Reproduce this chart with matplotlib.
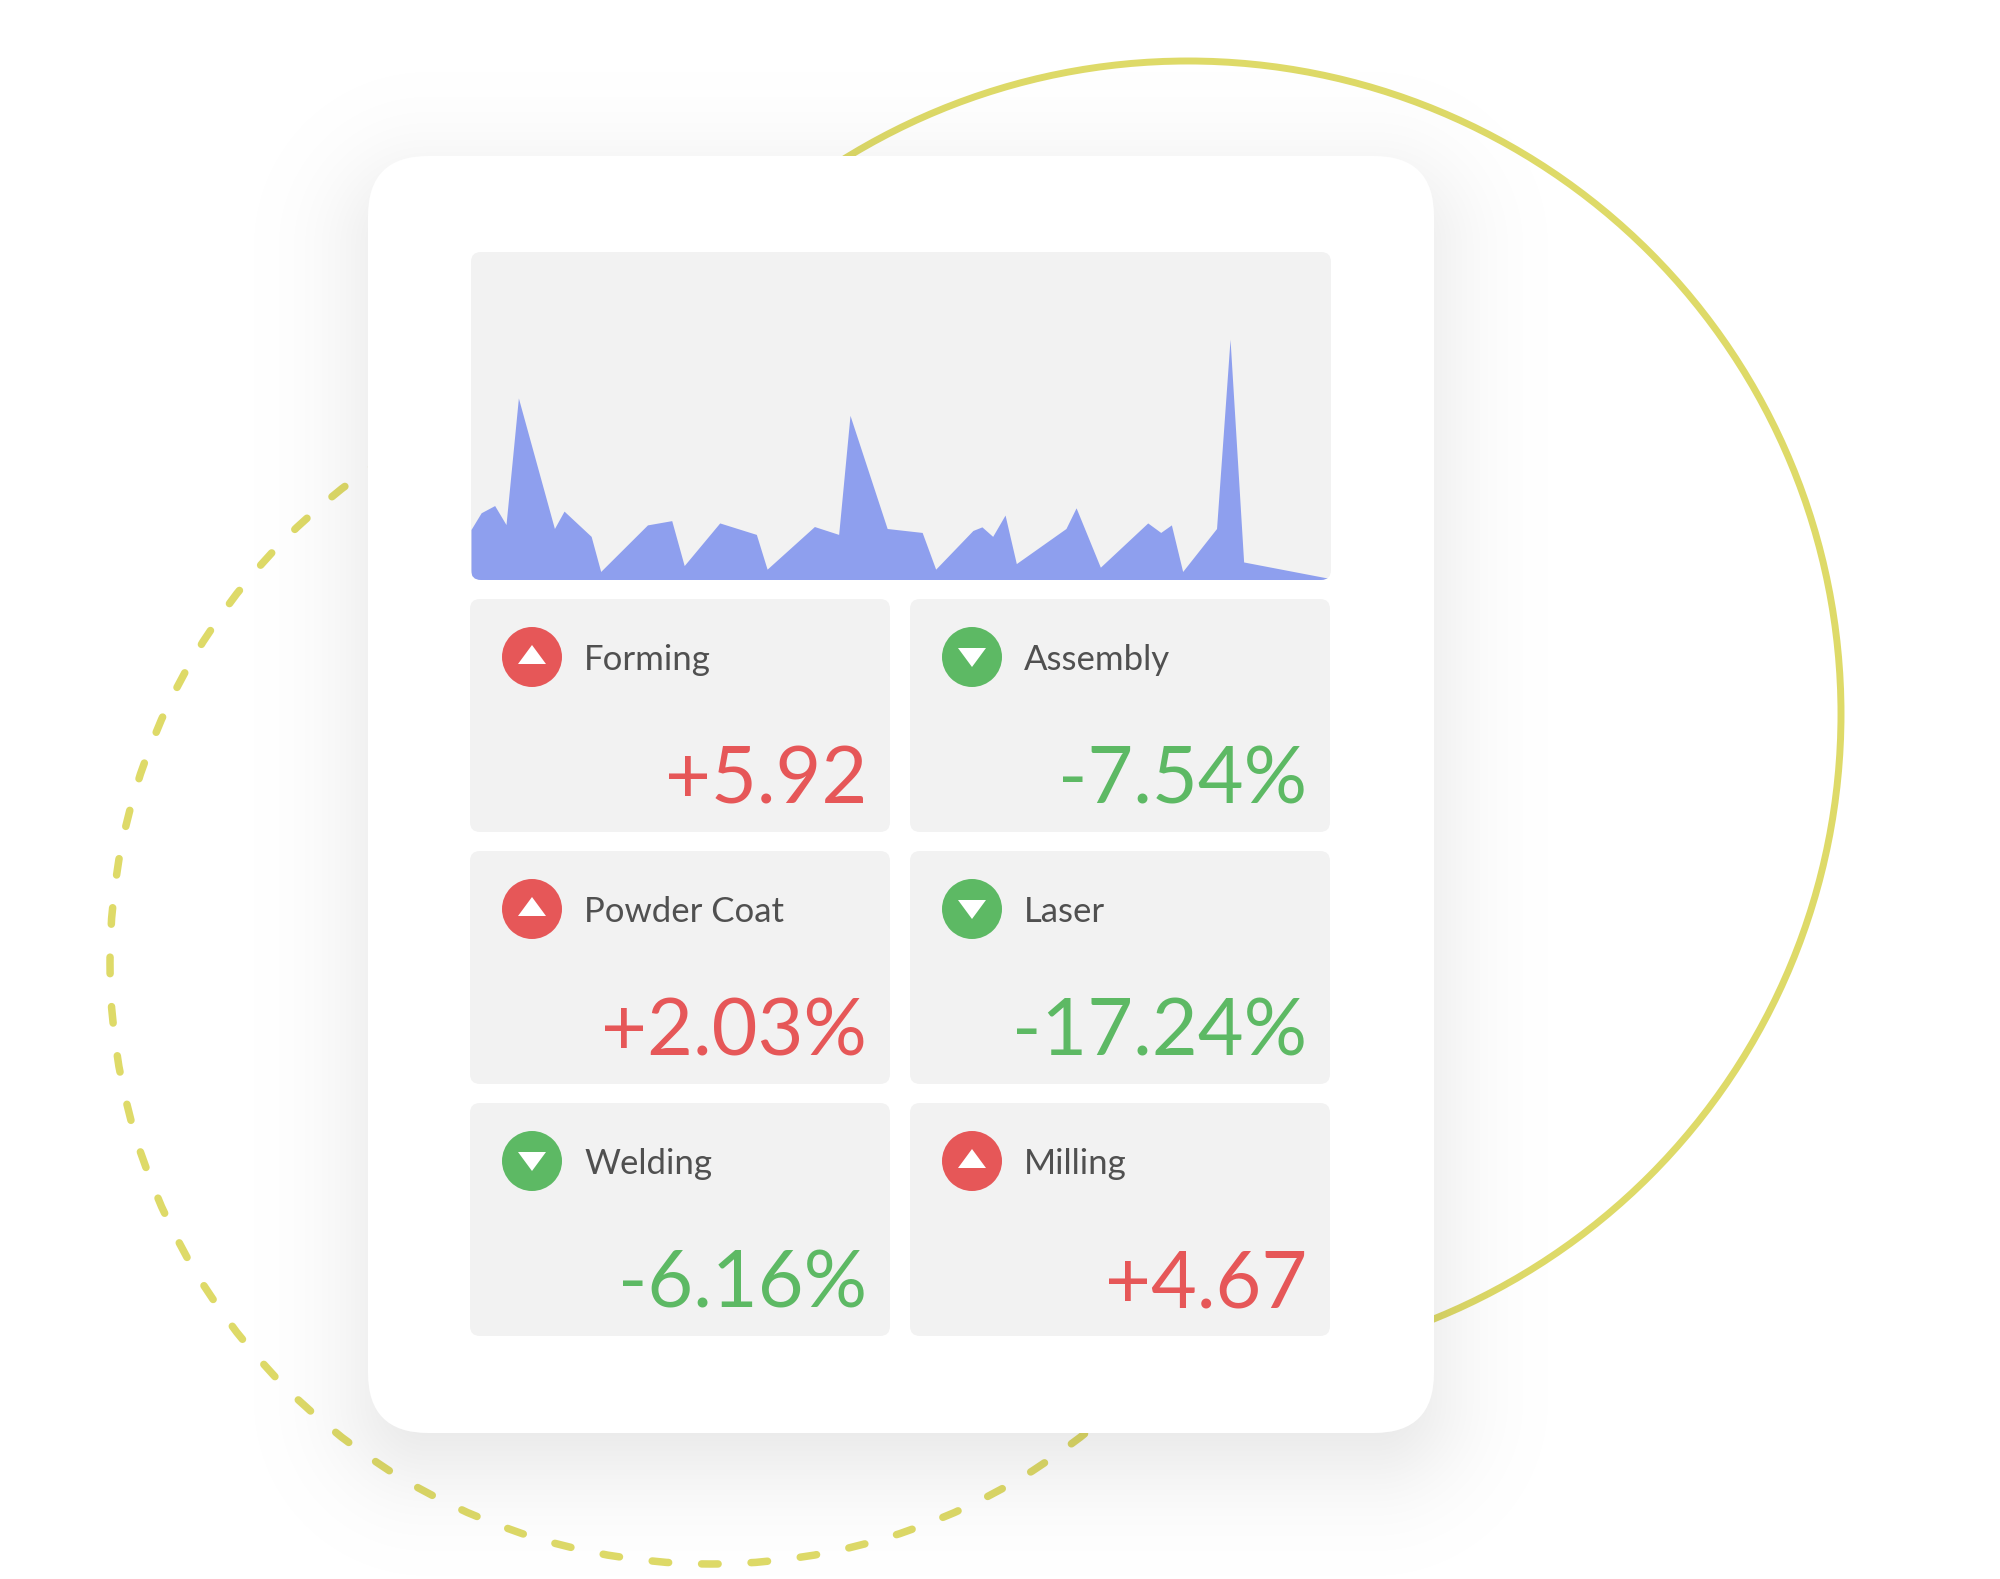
import numpy as np
import matplotlib
matplotlib.use("Agg")
import matplotlib.pyplot as plt
from matplotlib.patches import FancyBboxPatch, Circle, Polygon

# ---------------- data ----------------
trend_x = [0, 1.18, 2.75, 4.07, 5.51, 9.70, 10.82, 13.97, 15.08, 20.52, 23.34, 24.79,
           28.92, 33.18, 34.43, 39.93, 42.75, 44.07, 48.39, 52.46, 54.03, 58.36, 59.41,
           60.66, 62.10, 63.41, 69.18, 70.36, 73.18, 78.69, 80.20, 81.44, 82.75, 86.69,
           88.26, 89.84, 100]
trend_y = [15.4, 20.5, 22.7, 16.9, 55.5, 15.7, 21.0, 13.3, 2.6, 16.8, 18.1, 4.4,
           17.4, 13.9, 3.3, 16.3, 13.9, 50.2, 15.7, 14.5, 3.3, 15.1, 16.2,
           13.3, 19.8, 5.0, 15.7, 22.0, 3.9, 17.4, 14.5, 16.8, 2.6, 15.7,
           73.4, 5.5, 0.4]

names = ["Forming", "Assembly", "Powder Coat", "Laser", "Welding", "Milling"]
changes = [5.92, -7.54, 2.03, -17.24, -6.16, 4.67]
units = ["", "%", "%", "%", "%", ""]

# ---------------- style ----------------
plt.rcParams['font.family'] = ['Lato', 'DejaVu Sans']
RED = "#E65758"
GREEN = "#5DB964"
TILE = "#F2F2F2"
AREA = "#8E9FEE"
YELLOW = "#DEDA68"
LABEL = "#505050"

W, H = 2000, 1579
fig = plt.figure(figsize=(W / 100, H / 100), dpi=100)
fig.patch.set_facecolor("white")
ax = fig.add_axes([0, 0, 1, 1])
ax.set_xlim(0, W)
ax.set_ylim(H, 0)
ax.axis("off")

# ---------------- decorative circles ----------------
solid = Circle((1188, 714), 653, fill=False, edgecolor=YELLOW, lw=5.0, zorder=1)
ax.add_patch(solid)
dashed = Circle((711, 963), 601, fill=False, edgecolor=YELLOW, lw=5.4,
                linestyle=(0, (2.2, 4.4)), zorder=1)
dashed.set_capstyle("round")
ax.add_patch(dashed)

# ---------------- card shadow ----------------
card_x, card_y, card_w, card_h, card_r = 368, 156, 1066, 1277, 60


def rrect_sdf(X, Y, x0, y0, w, h, r):
    cx, cy = x0 + w / 2, y0 + h / 2
    qx = np.abs(X - cx) - (w / 2 - r)
    qy = np.abs(Y - cy) - (h / 2 - r)
    outside = np.hypot(np.maximum(qx, 0), np.maximum(qy, 0))
    inside = np.minimum(np.maximum(qx, qy), 0)
    return outside + inside - r


gx = np.arange(0, W, 2) + 1.0
gy = np.arange(0, H, 2) + 1.0
GX, GY = np.meshgrid(gx, gy)
d = rrect_sdf(GX, GY, card_x, card_y + 30, card_w, card_h, card_r)
sigma = 58.0
alpha = 0.115 / (1.0 + np.exp(1.702 * d / sigma))
rgba = np.zeros(GX.shape + (4,))
rgba[..., 3] = alpha
ax.imshow(rgba, extent=(0, W, H, 0), interpolation="bilinear", zorder=2, aspect="auto")
ax.set_xlim(0, W)
ax.set_ylim(H, 0)

# ---------------- card ----------------
card = FancyBboxPatch((card_x, card_y), card_w, card_h,
                      boxstyle=f"round,pad=0,rounding_size={card_r}",
                      facecolor="white", edgecolor="none", zorder=3)
ax.add_patch(card)

# ---------------- chart panel ----------------
px0, py0, px1, py1 = 471, 252, 1331, 580
panel = FancyBboxPatch((px0, py0), px1 - px0, py1 - py0,
                       boxstyle="round,pad=0,rounding_size=10",
                       facecolor=TILE, edgecolor="none", zorder=4)
ax.add_patch(panel)
clip = FancyBboxPatch((px0, py0), px1 - px0, py1 - py0,
                      boxstyle="round,pad=0,rounding_size=10",
                      transform=ax.transData)

ax2 = fig.add_axes([px0 / W, 1 - py1 / H, (px1 - px0) / W, (py1 - py0) / H])
ax2.set_xlim(0, 100)
ax2.set_ylim(0, 100)
ax2.axis("off")
ax2.patch.set_visible(False)
area = ax2.fill_between(trend_x, trend_y, 0, color=AREA, lw=0)
area.set_clip_path(clip)

# ---------------- KPI tiles ----------------
col_x = [470, 910]
row_y = [599, 851, 1103]
tile_w, tile_h = 420, 233

for i, (name, val, unit) in enumerate(zip(names, changes, units)):
    x0 = col_x[i % 2]
    y0 = row_y[i // 2]
    ax.add_patch(FancyBboxPatch((x0, y0), tile_w, tile_h,
                                boxstyle="round,pad=0,rounding_size=10",
                                facecolor=TILE, edgecolor="none", zorder=4))
    up = val > 0
    color = RED if up else GREEN
    cx, cy = x0 + 62, y0 + 58
    ax.add_patch(Circle((cx, cy), 30, facecolor=color, edgecolor="none", zorder=5))
    if up:
        tri = [(cx - 14, cy + 7), (cx + 14, cy + 7), (cx, cy - 12)]
    else:
        tri = [(cx - 14, cy - 9), (cx + 14, cy - 9), (cx, cy + 10)]
    ax.add_patch(Polygon(tri, closed=True, facecolor="white", edgecolor="none", zorder=6))
    ax.text(cx + 52, cy + 13, name, fontsize=25, color=LABEL,
            ha="left", va="baseline", zorder=6)
    txt = f"{val:+.2f}{unit}"
    ax.text(x0 + tile_w - 23, y0 + 204, txt, fontsize=57, color=color,
            ha="right", va="baseline", zorder=6)

fig.savefig("out.png", dpi=100, facecolor="white")
